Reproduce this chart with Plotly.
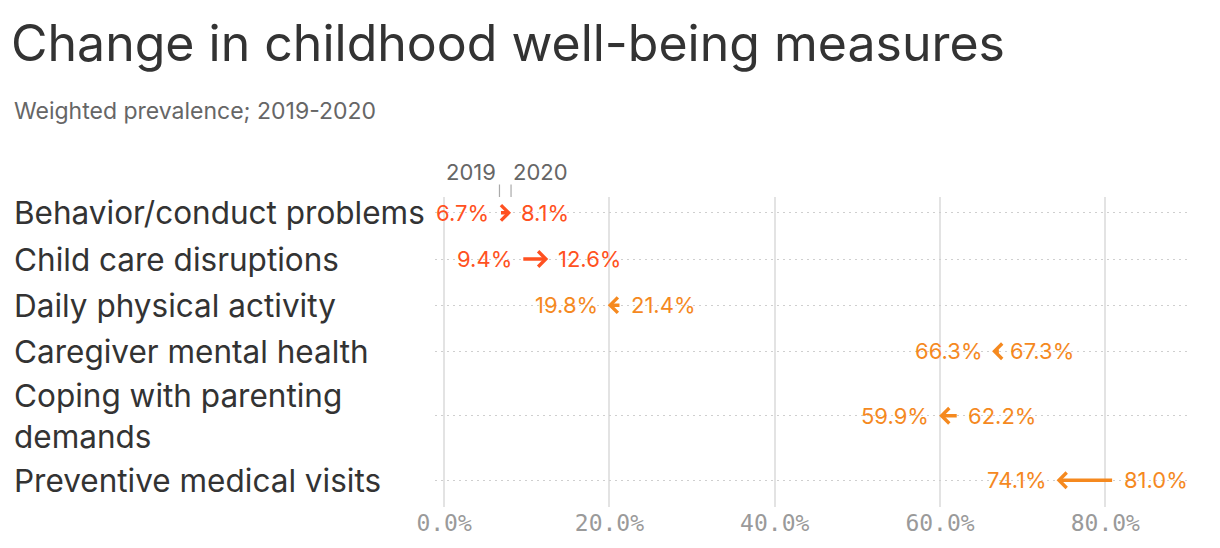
import plotly.graph_objects as go

measures = [
    "Behavior/conduct problems",
    "Child care disruptions",
    "Daily physical activity",
    "Caregiver mental health",
    "Coping with parenting<br>demands",
    "Preventive medical visits",
]
val_2019 = [6.7, 9.4, 21.4, 67.3, 62.2, 81.0]
val_2020 = [8.1, 12.6, 19.8, 66.3, 59.9, 74.1]
x_ticks = [0, 20, 40, 60, 80]

RED = "#ff5121"
ORANGE = "#f5891f"
FONT = "Inter"

# the page body adds an 8px offset, so the figure is 8px smaller than the window
W, H = 1212, 540
M_L, M_R, M_T, M_B = 427, 32, 189, 38
PLOT_W = W - M_L - M_R
PLOT_H = H - M_T - M_B
LEFT = -(M_L - 4) / PLOT_W  # paper x of the left text column


def paper_y(px):
    # window pixel row -> paper y
    return (H - M_B + 8 - px) / PLOT_H


# row centres in pixels: one-line rows ~46px, extra 37px per wrapped line
row_y = []
pos = 0
for m in measures:
    h = 46.5 + 37 * m.count("<br>")
    row_y.append(pos + h / 2)
    pos += h

layout = {
    "template": "plotly_white",
    "width": W,
    "height": H,
    "margin": {"l": M_L, "r": M_R, "t": M_T, "b": M_B},
    "paper_bgcolor": "white",
    "plot_bgcolor": "white",
    "showlegend": False,
    "font": {"family": FONT, "color": "#333333"},
    "xaxis": {
        "range": [-1.1, 90],
        "tickvals": x_ticks,
        "ticktext": [f"{t:.1f}%" for t in x_ticks],
        "tickfont": {"family": "DejaVu Sans Mono", "size": 23, "color": "#9a9a9a"},
        "showgrid": True,
        "gridcolor": "#e3e3e3",
        "gridwidth": 1.5,
        "zeroline": False,
        "showline": False,
        "ticks": "",
        "fixedrange": True,
    },
    "yaxis": {
        "range": [row_y[-1] + 27, row_y[0] - 16],
        "tickvals": row_y,
        "showticklabels": False,
        "showgrid": True,
        "gridcolor": "#cfcfcf",
        "griddash": "2px,4px",
        "gridwidth": 1.2,
        "zeroline": False,
        "showline": False,
        "fixedrange": True,
    },
}

fig = go.Figure(layout=layout)

# invisible trace so axes render
fig.add_scatter(x=val_2019 + val_2020, y=row_y + row_y, mode="markers",
                marker={"opacity": 0}, hoverinfo="skip")

for name, y, a, b in zip(measures, row_y, val_2019, val_2020):
    color = RED if b > a else ORANGE
    fig.add_annotation(x=b, y=y, ax=a, ay=y, xref="x", yref="y", axref="x", ayref="y",
                       text="", showarrow=True, arrowhead=4, arrowsize=0.85,
                       arrowwidth=3.5, arrowcolor=color, standoff=0, startstandoff=0)
    lo, hi = min(a, b), max(a, b)
    fig.add_annotation(x=lo, y=y, xref="x", yref="y", text=f"{lo:.1f}%", showarrow=False,
                       xanchor="right", xshift=-8, font={"size": 22, "color": color})
    fig.add_annotation(x=hi, y=y, xref="x", yref="y", text=f"{hi:.1f}%", showarrow=False,
                       xanchor="left", xshift=8, font={"size": 22, "color": color})
    fig.add_annotation(x=LEFT, y=y, xref="paper", yref="y", text=name,
                       showarrow=False, xanchor="left", align="left",
                       font={"size": 31.5, "color": "#333333"})

# year key above the first row
for yr, v, anchor in [("2019", val_2019[0], "right"), ("2020", val_2020[0], "left")]:
    fig.add_annotation(x=v, y=paper_y(172), xref="x", yref="paper", text=yr, showarrow=False,
                       xanchor=anchor, yanchor="middle", xshift=-1 if anchor == "right" else 0,
                       font={"size": 22, "color": "#666666"})
    fig.add_annotation(x=v, y=paper_y(197), xref="x", yref="paper", text="",
                       showarrow=True, arrowhead=0, ax=0, ay=-14, arrowwidth=1.2,
                       arrowcolor="#aaaaaa", standoff=0, startstandoff=0)

fig.add_annotation(x=LEFT, y=paper_y(42), xref="paper", yref="paper", xshift=-3,
                   text="Change in childhood well-being measures", showarrow=False,
                   xanchor="left", yanchor="middle", font={"size": 50, "color": "#333333"})
fig.add_annotation(x=LEFT, y=paper_y(110), xref="paper", yref="paper",
                   text="Weighted prevalence; 2019-2020", showarrow=False,
                   xanchor="left", yanchor="middle", font={"size": 23, "color": "#666666"})

fig.write_html("out.html")
